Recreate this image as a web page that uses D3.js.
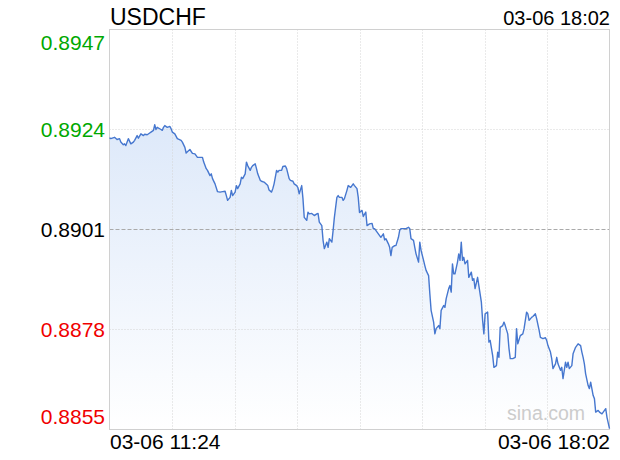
<!DOCTYPE html>
<html><head><meta charset="utf-8">
<script src="https://cdn.jsdelivr.net/npm/d3@7/dist/d3.min.js"></script>
<style>
body{margin:0;background:#fff}
svg{display:block;font-family:"Liberation Sans",Arial,Helvetica,sans-serif}
</style>
</head><body>
<svg id="chart" width="620" height="460"></svg>
<script>
const title = "USDCHF";
const stampLabel = "03-06 18:02";
const watermark = "sina.com";
const xLabels = ["03-06 11:24", "03-06 18:02"];
const timeStart = "11:24", timeEnd = "18:02";
const yTicks = [0.8947, 0.8924, 0.8901, 0.8878, 0.8855];
const prevClose = 0.8901;
const gridColumns = 8;

const times = ["11:24","11:25","11:28","11:30","11:32","11:33","11:35","11:36","11:37","11:39",
"11:41","11:43","11:44","11:46","11:47","11:49","11:51","11:52","11:54","11:56",
"11:57","11:59","12:00","12:01","12:02","12:05","12:06","12:07","12:08","12:10",
"12:12","12:13","12:14","12:16","12:18","12:21","12:22","12:24","12:25","12:26",
"12:28","12:30","12:32","12:34","12:36","12:38","12:39","12:41","12:42","12:44",
"12:45","12:46","12:48","12:50","12:52","12:54","12:56","12:57","12:58","13:00",
"13:01","13:02","13:04","13:05","13:06","13:08","13:09","13:10","13:12","13:13",
"13:14","13:16","13:17","13:18","13:20","13:21","13:22","13:24","13:25","13:27",
"13:30","13:31","13:33","13:34","13:35","13:37","13:38","13:39","13:41","13:42",
"13:44","13:45","13:47","13:48","13:50","13:51","13:53","13:54","13:55","13:57",
"13:58","13:59","14:01","14:02","14:03","14:05","14:07","14:09","14:10","14:11",
"14:13","14:14","14:15","14:17","14:18","14:19","14:21","14:22","14:23","14:25",
"14:26","14:27","14:29","14:30","14:31","14:33","14:34","14:36","14:38","14:39",
"14:41","14:42","14:43","14:45","14:46","14:48","14:49","14:51","14:53","14:54",
"14:55","14:57","14:58","14:59","15:00","15:02","15:03","15:04","15:06","15:07",
"15:08","15:09","15:11","15:12","15:14","15:15","15:16","15:18","15:19","15:20",
"15:22","15:23","15:24","15:26","15:27","15:28","15:30","15:31","15:32","15:34",
"15:35","15:36","15:38","15:39","15:40","15:42","15:43","15:44","15:46","15:47",
"15:48","15:50","15:51","15:52","15:54","15:55","15:56","15:57","15:58","15:59",
"16:01","16:02","16:03","16:04","16:05","16:06","16:07","16:09","16:10","16:12",
"16:13","16:14","16:15","16:17","16:18","16:20","16:21","16:22","16:23","16:25",
"16:26","16:27","16:29","16:30","16:32","16:33","16:34","16:35","16:37","16:38",
"16:39","16:41","16:42","16:43","16:45","16:47","16:48","16:49","16:51","16:53",
"16:54","16:56","16:57","16:58","17:00","17:01","17:03","17:04","17:06","17:07",
"17:09","17:11","17:12","17:13","17:15","17:16","17:17","17:19","17:20","17:21",
"17:23","17:24","17:25","17:27","17:28","17:29","17:30","17:32","17:33","17:35",
"17:36","17:37","17:39","17:40","17:41","17:42","17:43","17:45","17:46","17:47",
"17:49","17:50","17:51","17:53","17:54","17:56","17:58","17:59","18:00","18:02"];

const prices = [0.89221,0.89219,0.89222,0.89217,0.89219,0.89211,0.89205,0.89207,0.89203,0.89219,
0.89207,0.89211,0.89215,0.89226,0.89220,0.89230,0.89226,0.89229,0.89228,0.89232,
0.89234,0.89238,0.89251,0.89240,0.89245,0.89240,0.89238,0.89245,0.89249,0.89245,
0.89247,0.89242,0.89234,0.89230,0.89219,0.89215,0.89211,0.89199,0.89186,0.89189,
0.89194,0.89185,0.89184,0.89176,0.89176,0.89176,0.89165,0.89150,0.89146,0.89134,
0.89138,0.89127,0.89115,0.89097,0.89096,0.89097,0.89098,0.89088,0.89077,0.89084,
0.89100,0.89088,0.89096,0.89111,0.89104,0.89115,0.89130,0.89127,0.89138,0.89165,
0.89157,0.89146,0.89153,0.89157,0.89161,0.89150,0.89138,0.89123,0.89121,0.89119,
0.89111,0.89101,0.89096,0.89104,0.89115,0.89146,0.89142,0.89146,0.89146,0.89155,
0.89156,0.89150,0.89127,0.89123,0.89121,0.89115,0.89111,0.89106,0.89092,0.89111,
0.89081,0.89038,0.89031,0.89050,0.89046,0.89047,0.89042,0.89046,0.89047,0.89027,
0.89019,0.88985,0.88966,0.88981,0.88969,0.88989,0.88981,0.89008,0.89038,0.89084,
0.89088,0.89084,0.89084,0.89077,0.89081,0.89100,0.89111,0.89107,0.89115,0.89111,
0.89104,0.89084,0.89049,0.89054,0.89040,0.89050,0.89019,0.89023,0.89024,0.89012,
0.89012,0.89004,0.89000,0.88996,0.88992,0.89000,0.88986,0.88989,0.88977,0.88969,
0.88950,0.88969,0.88973,0.88973,0.88992,0.89008,0.89012,0.89012,0.89012,0.89012,
0.89015,0.89012,0.88989,0.88985,0.88969,0.88954,0.88935,0.88981,0.88962,0.88939,
0.88927,0.88916,0.88904,0.88862,0.88824,0.88797,0.88770,0.88782,0.88789,0.88782,
0.88824,0.88835,0.88831,0.88851,0.88874,0.88881,0.88866,0.88931,0.88908,0.88908,
0.88935,0.88954,0.88939,0.88981,0.88939,0.88946,0.88931,0.88939,0.88900,0.88912,
0.88893,0.88897,0.88874,0.88900,0.88881,0.88843,0.88801,0.88770,0.88816,0.88820,
0.88751,0.88755,0.88720,0.88693,0.88697,0.88728,0.88716,0.88785,0.88789,0.88797,
0.88789,0.88770,0.88736,0.88713,0.88713,0.88716,0.88782,0.88747,0.88766,0.88770,
0.88782,0.88820,0.88816,0.88801,0.88808,0.88810,0.88816,0.88805,0.88778,0.88762,
0.88759,0.88761,0.88755,0.88743,0.88728,0.88713,0.88690,0.88701,0.88716,0.88701,
0.88686,0.88693,0.88667,0.88705,0.88693,0.88705,0.88690,0.88697,0.88724,0.88739,
0.88743,0.88747,0.88743,0.88728,0.88716,0.88701,0.88678,0.88651,0.88644,0.88659,
0.88628,0.88621,0.88590,0.88594,0.88590,0.88586,0.88594,0.88598,0.88578,0.88552];

const parseT = d3.timeParse("%H:%M");
const data = times.map((t, i) => ({ t: parseT(t), v: prices[i] }));

const L = 109.5, R = 609.5, T = 29.5, B = 429.5;
const svg = d3.select("#chart");

const x = d3.scaleTime().domain([parseT(timeStart), parseT(timeEnd)]).range([L, R]);
const y = d3.scaleLinear().domain([yTicks[yTicks.length - 1], yTicks[0]]).range([B, T]);
const col = d3.scaleLinear().domain([0, gridColumns]).range([L, R]);

// gradient
const defs = svg.append("defs");
const grad = defs.append("linearGradient").attr("id", "fillGrad")
  .attr("gradientUnits", "userSpaceOnUse").attr("x1", 0).attr("x2", 0).attr("y1", T).attr("y2", B);
grad.append("stop").attr("offset", "0%").attr("stop-color", "#d3e2f8");
grad.append("stop").attr("offset", "100%").attr("stop-color", "#ffffff");

// area
svg.append("path").datum(data)
  .attr("fill", "url(#fillGrad)")
  .attr("d", d3.area().x(d => x(d.t)).y0(B).y1(d => y(d.v)));

// vertical grid
svg.append("g").selectAll("line").data(d3.range(1, gridColumns)).join("line")
  .attr("x1", d => Math.round(col(d)) + 0.5).attr("x2", d => Math.round(col(d)) + 0.5)
  .attr("y1", T).attr("y2", B)
  .attr("stroke", "#d4d4d4").attr("stroke-dasharray", "1,2");

// horizontal grid
svg.append("g").selectAll("line").data(yTicks.slice(1, -1)).join("line")
  .attr("x1", L).attr("x2", R)
  .attr("y1", d => Math.round(y(d) - 0.5) + 0.5).attr("y2", d => Math.round(y(d) - 0.5) + 0.5)
  .attr("stroke", d => d === prevClose ? "#aaaaaa" : "#d4d4d4")
  .attr("stroke-dasharray", d => d === prevClose ? "4,2" : "1,2");

// frame
svg.append("rect").attr("x", L).attr("y", T).attr("width", R - L).attr("height", B - T)
  .attr("fill", "none").attr("stroke", "#d0d0d0");

// line
svg.append("path").datum(data)
  .attr("fill", "none").attr("stroke", "#4677cf").attr("stroke-width", 1.4)
  .attr("stroke-linejoin", "round")
  .attr("d", d3.line().x(d => x(d.t)).y(d => y(d.v)));

// watermark
svg.append("text").attr("x", 585).attr("y", 420).attr("text-anchor", "end")
  .attr("font-size", 19.5).attr("fill", "#cccccc").text(watermark);

// y axis
const yAxis = d3.axisLeft(y).tickValues(yTicks).tickSize(0).tickPadding(4)
  .tickFormat(d3.format(".4f"));
const gy = svg.append("g").attr("transform", `translate(${L - 0.5},0)`).call(yAxis);
gy.select(".domain").remove();
gy.selectAll("text")
  .attr("font-size", 21).attr("font-family", "\"Liberation Sans\",Arial,sans-serif")
  .attr("fill", d => d > prevClose ? "#00a800" : (d < prevClose ? "#f00000" : "#000000"))
  .attr("dy", (d, i) => i === 0 ? "0.95em" : (i === yTicks.length - 1 ? "-0.3em" : "0.35em"));

// x axis
const xAxis = d3.axisBottom(x).tickValues([parseT(timeStart), parseT(timeEnd)]).tickSize(0).tickPadding(5)
  .tickFormat((d, i) => xLabels[i]);
const gx = svg.append("g").attr("transform", `translate(0,${B})`).call(xAxis);
gx.select(".domain").remove();
gx.selectAll("text")
  .attr("font-size", 21).attr("font-family", "\"Liberation Sans\",Arial,sans-serif").attr("fill", "#000")
  .attr("text-anchor", (d, i) => i === 0 ? "start" : "end")
  .attr("dy", "0.71em");

// title & stamp
svg.append("text").attr("x", 110).attr("y", 25).attr("font-size", 23).attr("fill", "#000").text(title);
svg.append("text").attr("x", 610).attr("y", 25).attr("text-anchor", "end")
  .attr("font-size", 20).attr("fill", "#000").text(stampLabel);
</script>
</body></html>
